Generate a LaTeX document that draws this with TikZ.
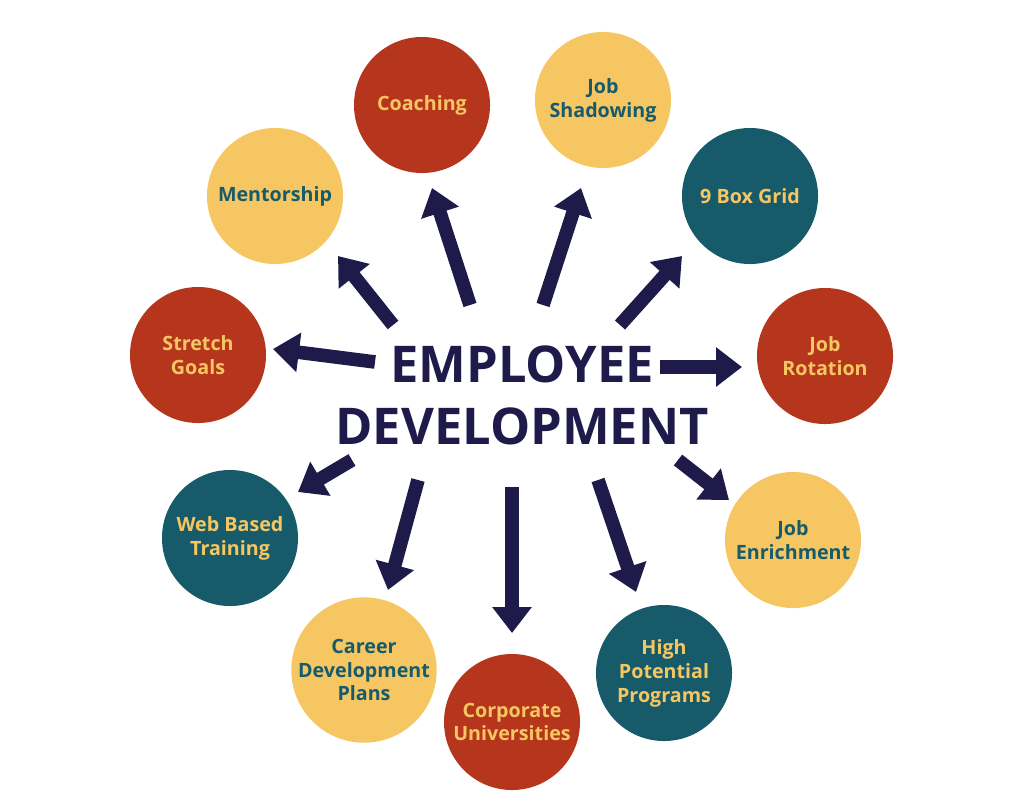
\documentclass[tikz,border=0pt]{standalone}
\usepackage{fontspec}
\setmainfont{Open Sans}
\usetikzlibrary{arrows.meta}
\definecolor{devred}{HTML}{B5361C}
\definecolor{devyellow}{HTML}{F5C662}
\definecolor{devteal}{HTML}{175B6A}
\definecolor{devnavy}{HTML}{1E1B4B}
\begin{document}
\begin{tikzpicture}[x=0.025cm, y=-0.025cm,
    topic/.style={circle, minimum size=3.4cm, inner sep=0pt, align=center,
        font=\fontsize{14}{17}\selectfont\bfseries},
    redtopic/.style={topic, fill=devred, text=devyellow},
    yellowtopic/.style={topic, fill=devyellow, text=devteal},
    tealtopic/.style={topic, fill=devteal, text=devyellow},
    bigarrow/.style={devnavy, line width=0.34cm,
        -{Triangle[width=0.95cm, length=0.65cm]}}]
    \useasboundingbox (0,0) rectangle (1024,810);
    % Center title
    \node (title) at (522,395) [text=devnavy, align=center,
        font=\fontsize{36}{44}\selectfont\bfseries] {EMPLOYEE\\DEVELOPMENT};

    % Topics
    \node (coach) at (422,105) [redtopic] {Coaching};
    \node (shadow) at (603,100) [yellowtopic] {Job\\Shadowing};
    \node (grid) at (750,196) [tealtopic] {9 Box Grid};
    \node (rotation) at (825,356) [redtopic] {Job\\Rotation};
    \node (enrich) at (793,540) [yellowtopic] {Job\\Enrichment};
    \node (potential) at (664,673) [tealtopic] {High\\Potential\\Programs};
    \node (corporate) at (512,722) [redtopic] {Corporate\\Universities};
    \node (career) at (364,670) [yellowtopic] {Career\\Development\\Plans};
    \node (web) at (230,538) [tealtopic] {Web Based\\Training};
    \node (stretch) at (198,355) [redtopic] {Stretch\\Goals};
    \node (mentor) at (275,196) [yellowtopic] {Mentorship};

    % Arrow ends
    \coordinate (t1) at (470,305); \coordinate (h1) at (432,188);
    \coordinate (t2) at (543,305); \coordinate (h2) at (581,188);
    \coordinate (t3) at (620,325); \coordinate (h3) at (682,256);
    \coordinate (t4) at (660,367); \coordinate (h4) at (742,367);
    \coordinate (t5) at (678,460); \coordinate (h5) at (729,500);
    \coordinate (t6) at (598,480); \coordinate (h6) at (636,592);
    \coordinate (t7) at (512,487); \coordinate (h7) at (512,633);
    \coordinate (t8) at (418,480); \coordinate (h8) at (388,590);
    \coordinate (t9) at (352,460); \coordinate (h9) at (298,492);
    \coordinate (t10) at (375,362); \coordinate (h10) at (273,349);
    \coordinate (t11) at (393,325); \coordinate (h11) at (338,256);

    % Arrows
    \foreach \i in {1,...,11}
        \draw[bigarrow] (t\i) -- (h\i);
\end{tikzpicture}
\end{document}
